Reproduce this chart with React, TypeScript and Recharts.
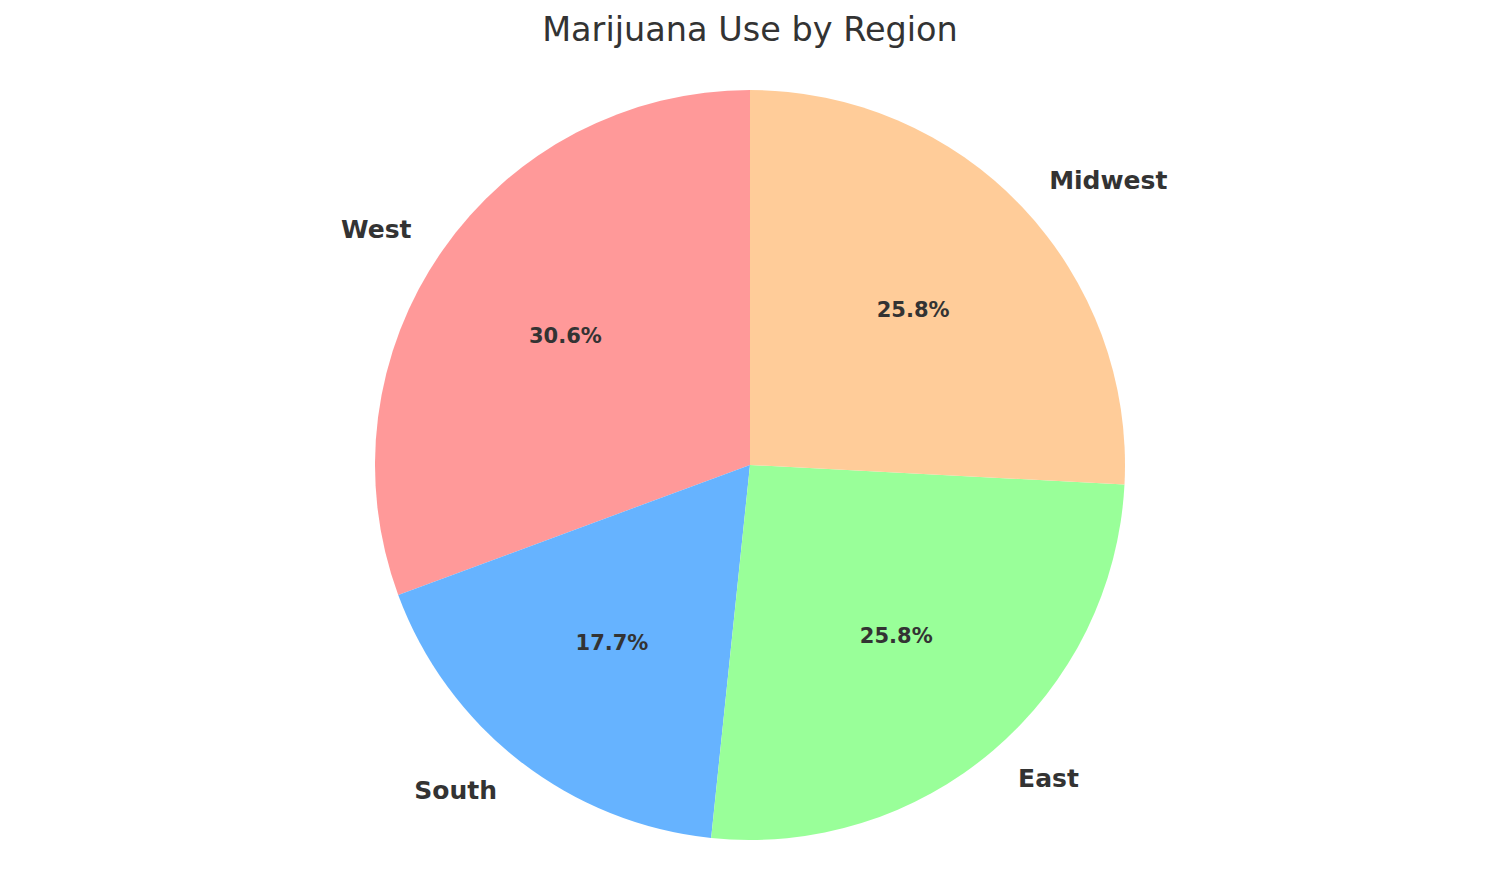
import { Cell, Pie, PieChart } from "recharts";

const regions = ["West", "South", "East", "Midwest"];
const shares = [30.6, 17.7, 25.8, 25.8];
const colors = ["#ff9999", "#66b3ff", "#99ff99", "#ffcc99"];

const data = regions.map((name, i) => ({ name, value: shares[i] }));

const RAD = Math.PI / 180;
const font = "'DejaVu Sans', sans-serif";

function renderLabel(props: any) {
  const { cx, cy, midAngle, outerRadius, percent, name } = props;
  const cos = Math.cos(-midAngle * RAD);
  const sin = Math.sin(-midAngle * RAD);
  const ox = cx + outerRadius * 1.1 * cos;
  const oy = cy + outerRadius * 1.1 * sin;
  const px = cx + outerRadius * 0.6 * cos;
  const py = cy + outerRadius * 0.6 * sin;
  return (
    <g>
      <text
        x={ox}
        y={oy}
        textAnchor={cos >= 0 ? "start" : "end"}
        dominantBaseline="central"
        fill="#333333"
        fontFamily={font}
        fontWeight="bold"
        fontSize={25}
      >
        {name}
      </text>
      <text
        x={px}
        y={py}
        textAnchor="middle"
        dominantBaseline="central"
        fill="#333333"
        fontFamily={font}
        fontWeight="bold"
        fontSize={21}
      >
        {(percent * 100).toFixed(1)}%
      </text>
    </g>
  );
}

export default function App() {
  return (
    <div style={{ position: "absolute", left: 0, top: 0, width: 1500, height: 894, background: "#fff" }}>
      <div
        style={{
          position: "absolute",
          top: 9,
          left: 0,
          width: 1500,
          textAlign: "center",
          fontFamily: font,
          fontSize: 33.5,
          color: "#333333",
          lineHeight: "42px",
        }}
      >
        Marijuana Use by Region
      </div>
      <PieChart width={1500} height={894} margin={{ top: 0, right: 0, bottom: 0, left: 0 }}>
        <Pie
          data={data}
          dataKey="value"
          nameKey="name"
          cx={750}
          cy={465}
          outerRadius={375}
          startAngle={90}
          endAngle={450}
          stroke="none"
          label={renderLabel}
          labelLine={false}
          isAnimationActive={false}
        >
          {data.map((d, i) => (
            <Cell key={d.name} fill={colors[i]} />
          ))}
        </Pie>
      </PieChart>
    </div>
  );
}
